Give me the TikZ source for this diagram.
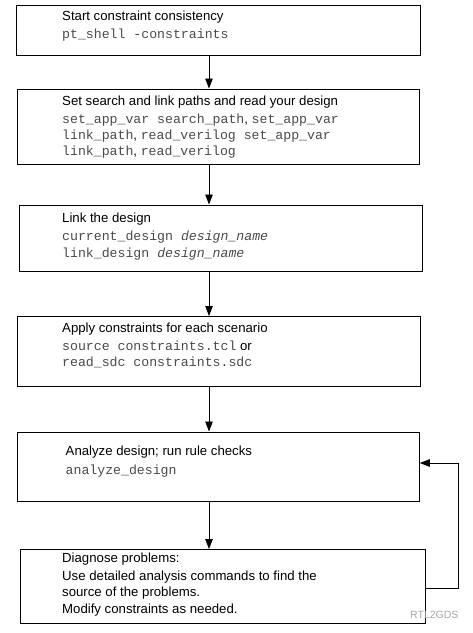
\documentclass[tikz,border=0pt]{standalone}
\usepackage{fontspec}
\setmainfont{Liberation Sans}
\setmonofont{Liberation Mono}
\usetikzlibrary{arrows.meta}
\definecolor{codegray}{HTML}{4A4A4A}
\newcommand\cmd[1]{{\ttfamily\color{codegray}#1}}
\begin{document}
\begin{tikzpicture}[x=1pt,y=-1pt,
  box/.style={draw, line width=0.8pt, inner sep=0pt, anchor=north west},
  tl/.style={anchor=base west, inner sep=0pt, font=\fontsize{13.2}{15}\selectfont},
  arr/.style={-{Triangle[length=10pt,width=7.5pt]}, line width=0.8pt},
  wmark/.style={anchor=base west, inner sep=0pt, text=black!35, font=\fontsize{10.5}{11}\selectfont}]
\useasboundingbox (0,0) rectangle (473,633);
% boxes
\node[box, minimum width=404.5pt, minimum height=50pt]   (b1) at (15.5,5) {};
\node[box, minimum width=402.5pt, minimum height=75.5pt] (b2) at (16.5,88.5) {};
\node[box, minimum width=403.5pt, minimum height=66.5pt] (b3) at (18.5,204.5) {};
\node[box, minimum width=403.5pt, minimum height=70pt]   (b4) at (16.5,316) {};
\node[box, minimum width=402.5pt, minimum height=69.5pt] (b5) at (16.5,431.5) {};
\node[box, minimum width=405.5pt, minimum height=74pt]   (b6) at (19.5,549) {};
% texts
\node[tl] (t11) at (62,20) {Start constraint consistency};
\node[tl] (t12) at (62,38) {\cmd{pt\_shell -constraints}};
\node[tl] (t21) at (62,105.5) {Set search and link paths and read your design};
\node[tl] (t22) at (62,123) {\cmd{set\_app\_var search\_path}, \cmd{set\_app\_var}};
\node[tl] (t23) at (62,139) {\cmd{link\_path}, \cmd{read\_verilog set\_app\_var}};
\node[tl] (t24) at (62,155) {\cmd{link\_path}, \cmd{read\_verilog}};
\node[tl] (t31) at (62,222) {Link the design};
\node[tl] (t32) at (62,240) {\cmd{current\_design \textit{design\_name}}};
\node[tl] (t33) at (62,257) {\cmd{link\_design \textit{design\_name}}};
\node[tl] (t41) at (62,332) {Apply constraints for each scenario};
\node[tl] (t42) at (62,350) {\cmd{source constraints.tcl} or};
\node[tl] (t43) at (62,366) {\cmd{read\_sdc constraints.sdc}};
\node[tl] (t51) at (65.5,455.5) {Analyze design; run rule checks};
\node[tl] (t52) at (65.5,474) {\cmd{analyze\_design}};
\node[tl] (t61) at (62,562) {Diagnose problems:};
\node[tl] (t62) at (62,580) {Use detailed analysis commands to find the};
\node[tl] (t63) at (62,596.5) {source of the problems.};
\node[tl] (t64) at (62,613) {Modify constraints as needed.};
% connectors
\coordinate (ax) at (209,0);
\draw[arr] (b1.south -| ax) -- (b2.north -| ax);
\draw[arr] (b2.south -| ax) -- (b3.north -| ax);
\draw[arr] (b3.south -| ax) -- (b4.north -| ax);
\draw[arr] (b4.south -| ax) -- (b5.north -| ax);
\draw[arr] (b5.south -| ax) -- (b6.north -| ax);
\coordinate (fb1) at (458,588);
\coordinate (fb2) at (458,463);
\draw[arr] (b6.east |- fb1) -- (fb1) -- (fb2) -- (b5.east |- fb2);
% watermark
\node[wmark] (wm) at (410,618) {RTL2GDS};
\end{tikzpicture}
\end{document}
